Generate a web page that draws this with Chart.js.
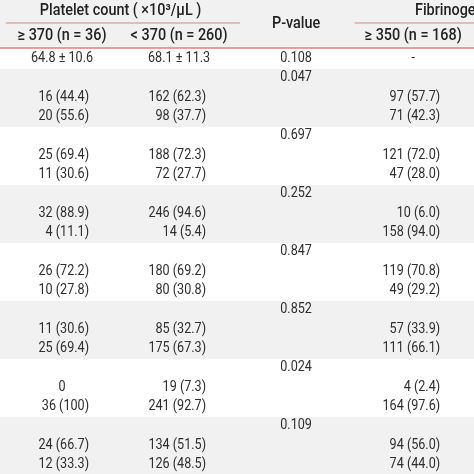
<!DOCTYPE html>
<html><head><meta charset="utf-8">
<script src="https://cdn.jsdelivr.net/npm/chart.js@4/dist/chart.umd.min.js"></script>
<style>html,body{margin:0;padding:0;background:#fff}</style></head>
<body><canvas id="c" width="474" height="474"></canvas>
<script>
const headerTop = ["Platelet count ( \u00d710\u00b3/\u03bcL )", "P-value", "Fibrinogen (mg/dL)"];
const headerSub = ["\u2265 370 (n = 36)", "< 370 (n = 260)", "\u2265 350 (n = 168)"];
const firstRow = ["64.8 \u00b1 10.6", "68.1 \u00b1 11.3", "0.108", "-"];
const pValues = ["0.047","0.697","0.252","0.847","0.852","0.024","0.109"];
const high370 = ["16 (44.4)","20 (55.6)","25 (69.4)","11 (30.6)","32 (88.9)","4 (11.1)","26 (72.2)","10 (27.8)","11 (30.6)","25 (69.4)","0","36 (100)","24 (66.7)","12 (33.3)"];
const low370 = ["162 (62.3)","98 (37.7)","188 (72.3)","72 (27.7)","246 (94.6)","14 (5.4)","180 (69.2)","80 (30.8)","85 (32.7)","175 (67.3)","19 (7.3)","241 (92.7)","134 (51.5)","126 (48.5)"];
const fib350 = ["97 (57.7)","71 (42.3)","121 (72.0)","47 (28.0)","10 (6.0)","158 (94.0)","119 (70.8)","49 (29.2)","57 (33.9)","111 (66.1)","4 (2.4)","164 (97.6)","94 (56.0)","74 (44.0)"];

const cells = [];
cells.push({x:0.5,y:-0.45,t:headerTop[0],h:1});
cells.push({x:2,y:0.2,t:headerTop[1],h:1});
cells.push({x:3,y:-0.45,t:headerTop[2],h:1,left:1});
cells.push({x:0,y:0.85,t:headerSub[0],h:1});
cells.push({x:1,y:0.85,t:headerSub[1],h:1});
cells.push({x:3,y:0.85,t:headerSub[2],h:1});
firstRow.forEach((t,i)=>cells.push({x:i,y:2,t:t,c:1}));
pValues.forEach((t,g)=>cells.push({x:2,y:3+3*g,t:t,c:1}));
[high370,low370,null,fib350].forEach((arr,col)=>{ if(!arr) return;
  arr.forEach((t,k)=>{ const g=Math.floor(k/2); cells.push({x:col,y:4+3*g+(k%2),t:t}); });
});

const tablePlugin = {
  id:'table',
  beforeDatasetsDraw(chart){
    const {ctx, scales:{x,y}} = chart;
    ctx.save();
    ctx.fillStyle = '#f1f1f1';
    const l2=y.getPixelForValue(1.45);
    ctx.fillRect(0,0,474,l2);
    for(let g=0; g<pValues.length; g+=2){
      const t=y.getPixelForValue(3*g+2.53), b=y.getPixelForValue(3*g+5.53);
      ctx.fillRect(0,t,474,b-t);
    }
    ctx.strokeStyle='#d98480';
    ctx.lineWidth=1.2;
    const l1=y.getPixelForValue(0.155);
    ctx.beginPath();
    ctx.moveTo(x.getPixelForValue(-0.48),l1); ctx.lineTo(x.getPixelForValue(1.52),l1);
    ctx.moveTo(x.getPixelForValue(2.5),l1); ctx.lineTo(474,l1);
    ctx.stroke();
    ctx.lineWidth=1.6;
    ctx.beginPath(); ctx.moveTo(0,l2); ctx.lineTo(474,l2); ctx.stroke();
    ctx.restore();
  },
  afterDatasetsDraw(chart){
    const {ctx, scales:{x,y}} = chart;
    const ds = chart.data.datasets[0].data;
    ds.forEach(c=>{
      const px=x.getPixelForValue(c.x), py=y.getPixelForValue(c.y);
      ctx.save();
      ctx.fillStyle=c.h?'#222':'#2e2e2e';
      ctx.font=c.h?'500 16px Roboto':'14px Roboto';
      ctx.textBaseline='middle';
      const sx=0.9;
      ctx.translate(px,py); ctx.scale(sx,1);
      let ax;
      if(c.left){ ctx.textAlign='left'; ax=(415-px)/sx; }
      else if(c.h || c.c || c.t.indexOf('(')<0){ ctx.textAlign='center'; ax=0; }
      else { ctx.textAlign='right'; ax=27/sx; }
      ctx.fillText(c.t,ax,0);
      ctx.restore();
    });
  }
};

new Chart(document.getElementById('c'),{
  type:'scatter',
  data:{datasets:[{data:cells,pointRadius:0,pointHoverRadius:0}]},
  options:{
    responsive:false, animation:false, events:[],
    layout:{padding:0},
    plugins:{legend:{display:false},tooltip:{enabled:false}},
    scales:{
      x:{type:'linear',min:-0.53,max:3.52,display:false},
      y:{type:'linear',min:-1.035,max:23.49,reverse:true,display:false}
    }
  },
  plugins:[tablePlugin]
});
</script></body></html>
